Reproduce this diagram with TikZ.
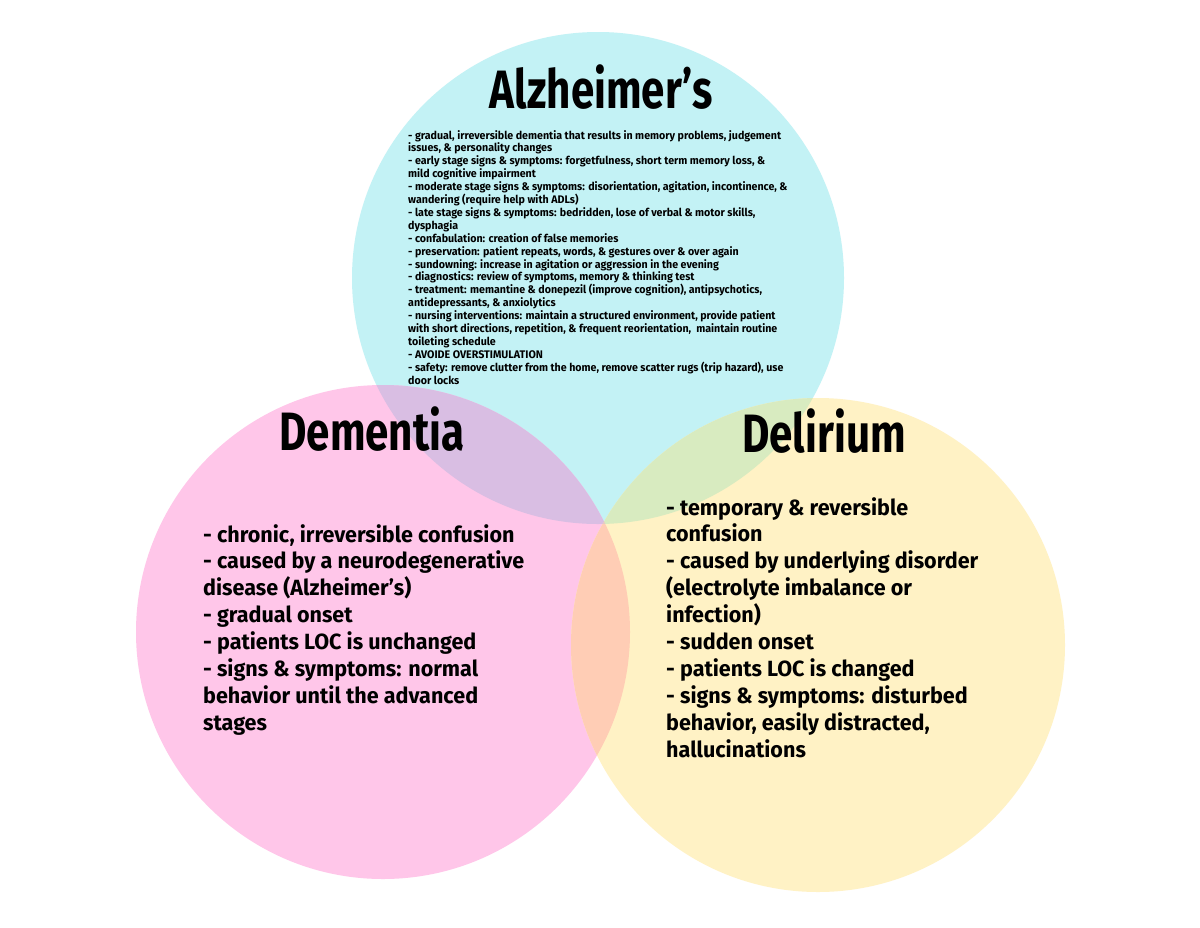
\documentclass[tikz,border=0pt]{standalone}
\usepackage{fontspec}
\newfontfamily\hand{Fira Sans}[FakeStretch=0.78]
\newfontfamily\handb{Fira Sans}[FakeStretch=0.98]
\newfontfamily\hands{Fira Sans}[FakeStretch=0.97]
\definecolor{cy}{RGB}{195,242,245}
\definecolor{pk}{RGB}{255,198,233}
\definecolor{yl}{RGB}{255,242,197}
\definecolor{lav}{RGB}{217,190,227}
\definecolor{grn}{RGB}{216,235,192}
\definecolor{pch}{RGB}{255,205,181}
\definecolor{tri}{RGB}{228,200,200}
\begin{document}
\begin{tikzpicture}[x=1pt,y=-1pt,
  title/.style={font=\hand\bfseries\fontsize{54}{60}\selectfont, inner sep=0pt, anchor=base},
  body/.style={font=\handb\bfseries\fontsize{22}{27}\selectfont, inner sep=0pt, anchor=base west},
  small/.style={font=\hands\bfseries\fontsize{11}{13}\selectfont, inner sep=0pt, anchor=base west}]
\useasboundingbox (0,0) rectangle (1200,927);
\fill[white] (0,0) rectangle (1200,927);
\coordinate (cA) at (598,278);
\coordinate (cD) at (383,632);
\coordinate (cL) at (818,645);
\fill[cy] (cA) circle[radius=246pt];
\fill[pk] (cD) circle[radius=247pt];
\fill[yl] (cL) circle[radius=247pt];
\begin{scope}
  \clip (cA) circle[radius=246pt];
  \fill[lav] (cD) circle[radius=247pt];
  \fill[grn] (cL) circle[radius=247pt];
\end{scope}
\begin{scope}
  \clip (cD) circle[radius=247pt];
  \fill[pch] (cL) circle[radius=247pt];
\end{scope}
\begin{scope}
  \clip (cA) circle[radius=246pt];
  \clip (cD) circle[radius=247pt];
  \fill[tri] (cL) circle[radius=247pt];
\end{scope}
\node[title] (tA) at (601,108) {Alzheimer’s};
\node[title] (tD) at (372,450) {Dementia};
\node[title] (tL) at (824,452) {Delirium};
\foreach \t [count=\i] in {
 {- gradual, irreversible dementia that results in memory problems, judgement},
 {issues, \& personality changes},
 {- early stage signs \& symptoms: forgetfulness, short term memory loss, \&},
 {mild cognitive impairment},
 {- moderate stage signs \& symptoms: disorientation, agitation, incontinence, \&},
 {wandering (require help with ADLs)},
 {- late stage signs \& symptoms: bedridden, lose of verbal \& motor skills,},
 {dysphagia},
 {- confabulation: creation of false memories},
 {- preservation: patient repeats, words, \& gestures over \& over again},
 {- sundowning: increase in agitation or aggression in the evening},
 {- diagnostics: review of symptoms, memory \& thinking test},
 {- treatment: memantine \& donepezil (improve cognition), antipsychotics,},
 {antidepressants, \& anxiolytics},
 {- nursing interventions: maintain a structured environment, provide patient},
 {with short directions, repetition, \& frequent reorientation,\ \ maintain routine},
 {toileting schedule},
 {- AVOIDE OVERSTIMULATION},
 {- safety: remove clutter from the home, remove scatter rugs (trip hazard), use},
 {door locks}}
 {\node[small] (alz\i) at (408,{139+(\i-1)*12.9}) {\t};}
\foreach \t [count=\i] in {
 {- chronic, irreversible confusion},
 {- caused by a neurodegenerative},
 {disease (Alzheimer’s)},
 {- gradual onset},
 {- patients LOC is unchanged},
 {- signs \& symptoms: normal},
 {behavior until the advanced},
 {stages}}
 {\node[body] (dem\i) at (203,{542+(\i-1)*26.9}) {\t};}
\foreach \t [count=\i] in {
 {- temporary \& reversible},
 {confusion},
 {- caused by underlying disorder},
 {(electrolyte imbalance or},
 {infection)},
 {- sudden onset},
 {- patients LOC is changed},
 {- signs \& symptoms: disturbed},
 {behavior, easily distracted,},
 {hallucinations}}
 {\node[body] (del\i) at (666,{515+(\i-1)*26.9}) {\t};}
\end{tikzpicture}
\end{document}
